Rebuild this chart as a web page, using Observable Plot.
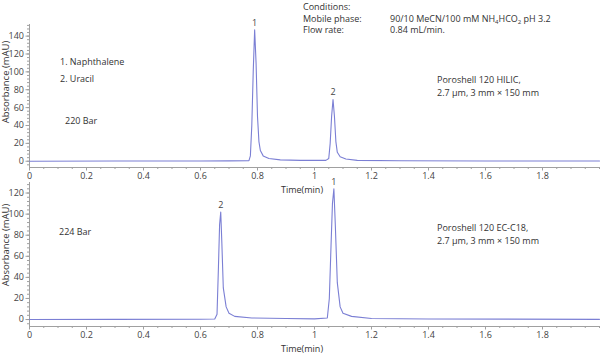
<!DOCTYPE html>
<html>
<head>
<meta charset="utf-8">
<script src="https://cdn.jsdelivr.net/npm/d3@7"></script>
<script src="https://cdn.jsdelivr.net/npm/@observablehq/plot@0.6"></script>
<style>
  html, body { margin: 0; padding: 0; background: #fff; }
  #wrap { position: relative; width: 600px; height: 355px; overflow: hidden; font-family: "Open Sans", sans-serif; color: #333; }
  .panel { position: absolute; left: 0; }
  .note { position: absolute; font-size: 9px; line-height: 10px; white-space: nowrap; color: #333; }
  .ylab { position: absolute; font-size: 9.5px; line-height: 10px; white-space: nowrap; color: #333; transform: translate(-50%, -50%) rotate(-90deg); }
  sub { font-size: 6px; vertical-align: -2px; line-height: 0; }
</style>
</head>
<body>
<div id="wrap"></div>
<script>
// ---- data ----
const xMajorTicks = [0, 0.2, 0.4, 0.6, 0.8, 1, 1.2, 1.4, 1.6, 1.8];
const xMinorTicks = d3.range(0, 2.001, 0.05).map(d => +d.toFixed(2));
const topYTicks = [0, 20, 40, 60, 80, 100, 120, 140];
const topYMinor = d3.range(-4, 153, 4);
const botYTicks = [0, 20, 40, 60, 80, 100, 120];
const botYMinor = d3.range(-4, 130, 4);

// HILIC trace (time in min, absorbance mAU)
const hilicTime = [0, 0.3, 0.6, 0.70, 0.77, 0.775, 0.78, 0.785, 0.79, 0.795, 0.80, 0.805, 0.81, 0.82, 0.84, 0.88, 0.95, 1.04, 1.05, 1.055, 1.06, 1.065, 1.07, 1.075, 1.08, 1.09, 1.11, 1.15, 1.3, 1.6, 2.0];
const hilicAbs  = [0, 0.2, 0.3, 0.4, 0.6, 6, 40, 100, 147, 110, 50, 22, 12, 6, 3, 1.5, 1, 1, 3, 20, 50, 69, 50, 22, 10, 5, 2.5, 1, 0.5, 0.3, 0.2];
const hilicPeakLabels = ["1", "2"];
const hilicPeakTime = [0.79, 1.065];
const hilicPeakAbs = [147, 69];

// EC-C18 trace
const c18Time = [0, 0.3, 0.6, 0.65, 0.658, 0.663, 0.667, 0.671, 0.675, 0.68, 0.69, 0.70, 0.72, 0.78, 0.9, 1.0, 1.045, 1.052, 1.058, 1.063, 1.068, 1.073, 1.08, 1.09, 1.10, 1.13, 1.2, 1.4, 2.0];
const c18Abs  = [0, 0.2, 0.3, 0.5, 5, 50, 90, 102, 72, 30, 12, 6, 3, 1.5, 1, 0.6, 1.5, 20, 70, 110, 124, 90, 35, 12, 6, 3, 1, 0.5, 0.2];
const c18PeakLabels = ["2", "1"];
const c18PeakTime = [0.671, 1.068];
const c18PeakAbs = [102, 124];

const yLabel = "Absorbance (mAU)";
const xLabel = "Time(min)";

// ---- build ----
const lineColor = "#7b7fd4";
const axisColor = "#a0a0a0";
const textColor = "#444";
const font = '"Open Sans", sans-serif';

function panel({time, abs, peakT, peakA, peakL, yDomain, yTicks, yMinor, height, marginTop, marginBottom}) {
  const trace = time.map((t, i) => ({t, a: abs[i]}));
  const peaks = peakT.map((t, i) => ({t, a: peakA[i], l: peakL[i]}));
  return Plot.plot({
    width: 600, height, marginLeft: 29, marginRight: 1, marginTop, marginBottom,
    style: {background: "transparent", fontFamily: font, fontSize: "9px", color: textColor, overflow: "visible"},
    x: {domain: [0, 2]},
    y: {domain: yDomain},
    marks: [
      Plot.ruleY([yDomain[0]], {stroke: axisColor, strokeWidth: 1}),
      Plot.ruleX([0], {stroke: axisColor, strokeWidth: 1}),
      Plot.axisX({ticks: xMinorTicks, tickSize: 2, tickFormat: () => "", stroke: axisColor, label: null}),
      Plot.axisX({ticks: xMajorTicks, tickSize: 3.5, tickPadding: 2, tickFormat: d => String(d), stroke: axisColor, fill: textColor, label: null, fontSize: 9}),
      Plot.axisY({ticks: yMinor, tickSize: 2, tickFormat: () => "", stroke: axisColor, label: null}),
      Plot.axisY({ticks: yTicks, tickSize: 3.5, tickPadding: 2, stroke: axisColor, fill: textColor, label: null, fontSize: 9}),
      Plot.line(trace, {x: "t", y: "a", stroke: lineColor, strokeWidth: 1.1}),
      Plot.text(peaks, {x: "t", y: "a", text: "l", dy: -7, fill: textColor, fontSize: 9})
    ]
  });
}

const wrap = document.getElementById("wrap");

const topPanel = panel({time: hilicTime, abs: hilicAbs, peakT: hilicPeakTime, peakA: hilicPeakAbs, peakL: hilicPeakLabels,
  yDomain: [-7, 153], yTicks: topYTicks, yMinor: topYMinor, height: 190, marginTop: 24, marginBottom: 23});
topPanel.classList.add("panel"); topPanel.style.top = "0px";
wrap.appendChild(topPanel);

const botPanel = panel({time: c18Time, abs: c18Abs, peakT: c18PeakTime, peakA: c18PeakAbs, peakL: c18PeakLabels,
  yDomain: [-6.6, 130], yTicks: botYTicks, yMinor: botYMinor, height: 177, marginTop: 4, marginBottom: 29});
botPanel.classList.add("panel"); botPanel.style.top = "178px";
wrap.appendChild(botPanel);

// ---- annotations ----
function note(html, x, y) {
  const d = document.createElement("div");
  d.className = "note"; d.innerHTML = html;
  d.style.left = x + "px"; d.style.top = y + "px";
  wrap.appendChild(d);
}
function ylab(text, x, y) {
  const d = document.createElement("div");
  d.className = "ylab"; d.textContent = text;
  d.style.left = x + "px"; d.style.top = y + "px";
  wrap.appendChild(d);
}

const conditionKeys = ["Conditions:", "Mobile phase:", "Flow rate:"];
const conditionVals = ["", "90/10 MeCN/100 mM NH<sub>4</sub>HCO<sub>2</sub> pH 3.2", "0.84 mL/min."];
conditionKeys.forEach((k, i) => note(k, 303, 2 + i * 11.5));
conditionVals.forEach((v, i) => { if (v) note(v, 390, 2 + i * 11.5); });

const compounds = ["1. Naphthalene", "2. Uracil"];
compounds.forEach((c, i) => note(c, 60, 57 + i * 16.5));
note("220 Bar", 65, 116);

const hilicColumn = ["Poroshell 120 HILIC,", "2.7 µm, 3 mm × 150 mm"];
hilicColumn.forEach((c, i) => note(c, 437, 75 + i * 13));

note("224 Bar", 59, 227);
const c18Column = ["Poroshell 120 EC-C18,", "2.7 µm, 3 mm × 150 mm"];
c18Column.forEach((c, i) => note(c, 437, 223 + i * 12.5));

note(xLabel, 281, 185);
note(xLabel, 281, 344);
ylab(yLabel, 5.5, 82);
ylab(yLabel, 5.5, 245);
</script>
</body>
</html>
